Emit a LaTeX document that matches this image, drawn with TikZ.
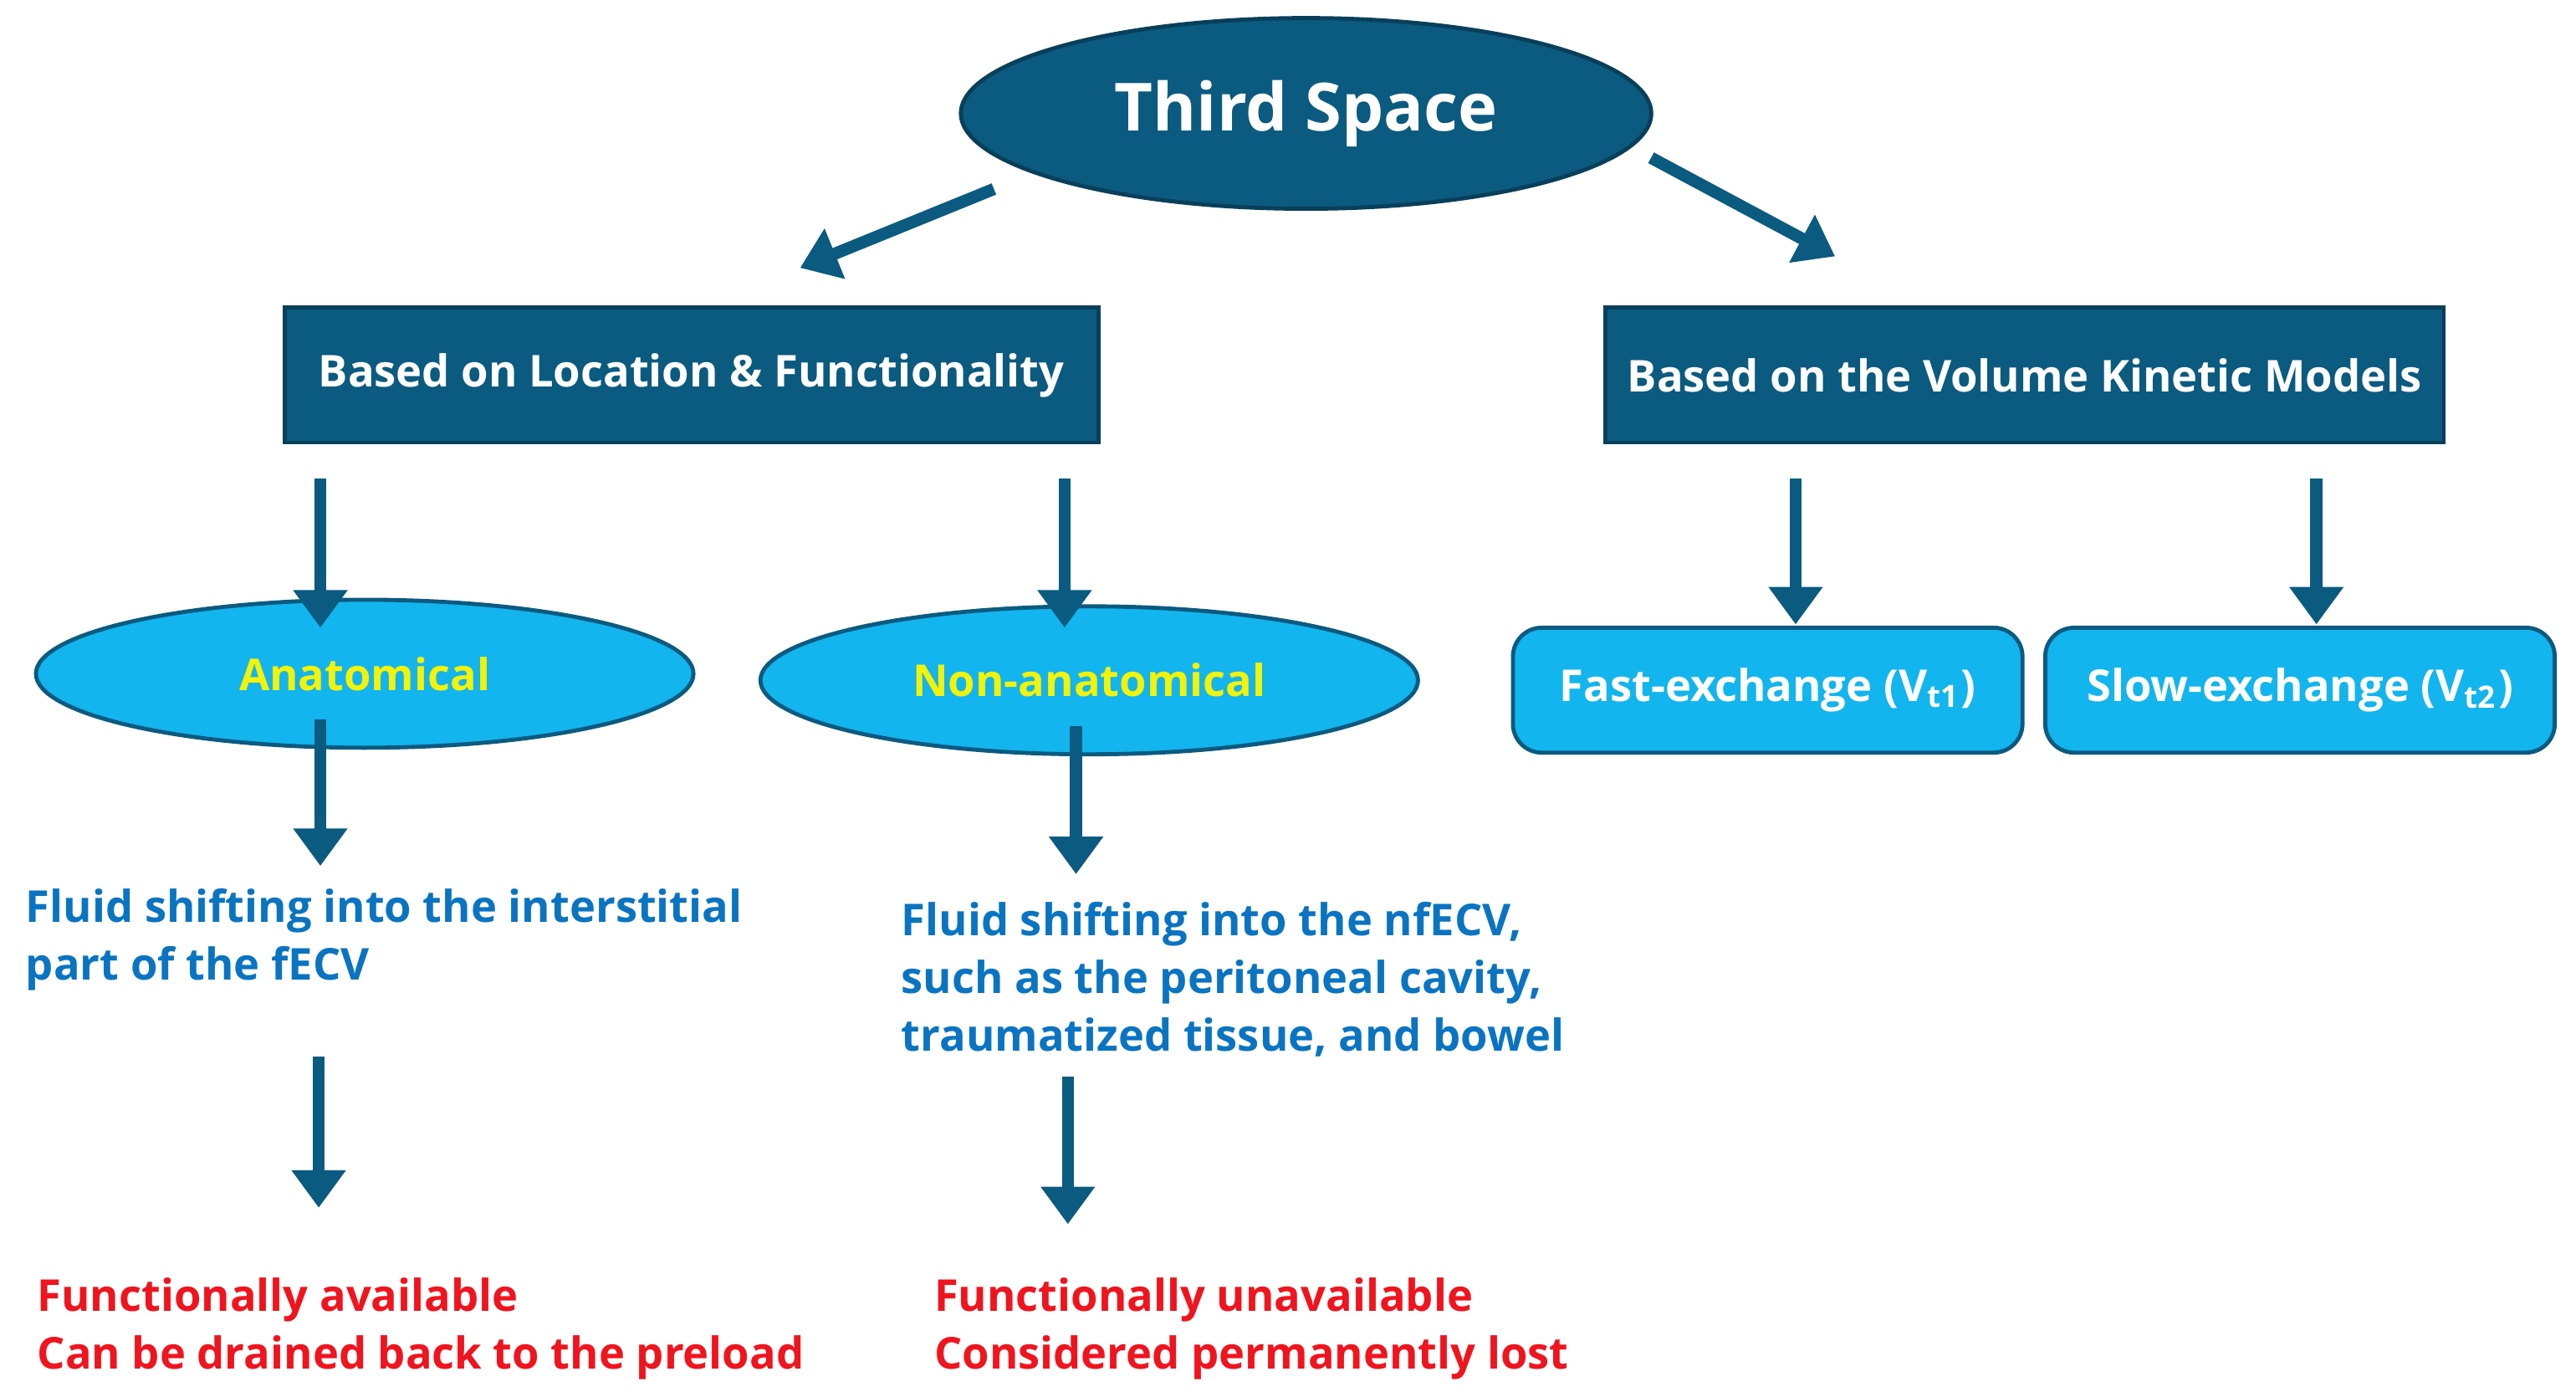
\documentclass[tikz,border=0pt]{standalone}
\usepackage{fontspec}
\setmainfont{Open Sans}
\usetikzlibrary{shapes.geometric,arrows.meta}
\definecolor{dk}{HTML}{0B5A80}
\definecolor{lb}{HTML}{12B5EE}
\definecolor{bt}{HTML}{0A74C2}
\definecolor{rd}{HTML}{F0141E}
\definecolor{yl}{HTML}{F2F20A}
\tikzset{
 arr/.style={draw=dk,line width=2.1pt,-{Triangle[width=9pt,length=6.5pt]}},
 dkbox/.style={draw=dk!70!black,fill=dk,line width=0.7pt,text=white,font=\bfseries\fontsize{7.6}{9}\selectfont,minimum height=0.82cm,anchor=north west},
 lell/.style={ellipse,draw=dk,fill=lb,line width=0.7pt,text=yl,font=\bfseries\fontsize{7.6}{9}\selectfont,minimum width=4cm,minimum height=0.9cm},
 rbox/.style={rounded corners=5pt,draw=dk,fill=lb,line width=0.7pt,text=white,font=\bfseries\fontsize{7.6}{9}\selectfont,minimum width=3.1cm,minimum height=0.76cm},
 btxt/.style={text=bt,font=\bfseries\fontsize{7.6}{10}\selectfont,align=left,anchor=north west,inner sep=0pt},
 rtxt/.style={text=rd,font=\bfseries\fontsize{7.6}{10}\selectfont,align=left,anchor=north west,inner sep=0pt},
}
\begin{document}
\begin{tikzpicture}[x=0.01cm,y=-0.01cm]
\useasboundingbox (0,0) rectangle (1568,847);
\node[ellipse,draw=dk!70!black,fill=dk,line width=0.7pt,minimum width=4.2cm,minimum height=1.16cm,text=white,font=\bfseries\fontsize{11.5}{13}\selectfont] (ts) at (795,69) {Third Space};
\node[dkbox,minimum width=4.95cm] (b1) at (172,186) {Based on Location \& Functionality};
\node[dkbox,minimum width=5.1cm] (b2) at (976,186) {Based on the Volume Kinetic Models};
\node[lell] (an) at (222,410) {Anatomical};
\node[lell] (na) at (663,414) {Non-anatomical};
\node[rbox] (fe) at (1076,420) {Fast-exchange (V\textsubscript{t1})};
\node[rbox] (se) at (1400,420) {Slow-exchange (V\textsubscript{t2})};
\node[btxt] (t1) at (15,540) {Fluid shifting into the interstitial\\part of the fECV};
\node[btxt] (t2) at (548,548) {Fluid shifting into the nfECV,\\such as the peritoneal cavity,\\traumatized tissue, and bowel};
\node[rtxt] (r1) at (22,777) {Functionally available\\Can be drained back to the preload};
\node[rtxt] (r2) at (568,777) {Functionally unavailable\\Considered permanently lost};
\coordinate (a1s) at (605,115); \coordinate (a1e) at (487,163);
\coordinate (a2s) at (1005,96); \coordinate (a2e) at (1117,156);
\draw[arr] (a1s) -- (a1e);
\draw[arr] (a2s) -- (a2e);
\foreach \x/\a/\b [count=\i] in {195/291/382, 648/291/382, 1093/291/380, 1410/291/380, 195/438/527, 655/442/532, 194/643/735, 650/655/745}{
 \coordinate (s\i) at (\x,\a); \coordinate (e\i) at (\x,\b);
 \draw[arr] (s\i) -- (e\i);
}
\end{tikzpicture}
\end{document}
